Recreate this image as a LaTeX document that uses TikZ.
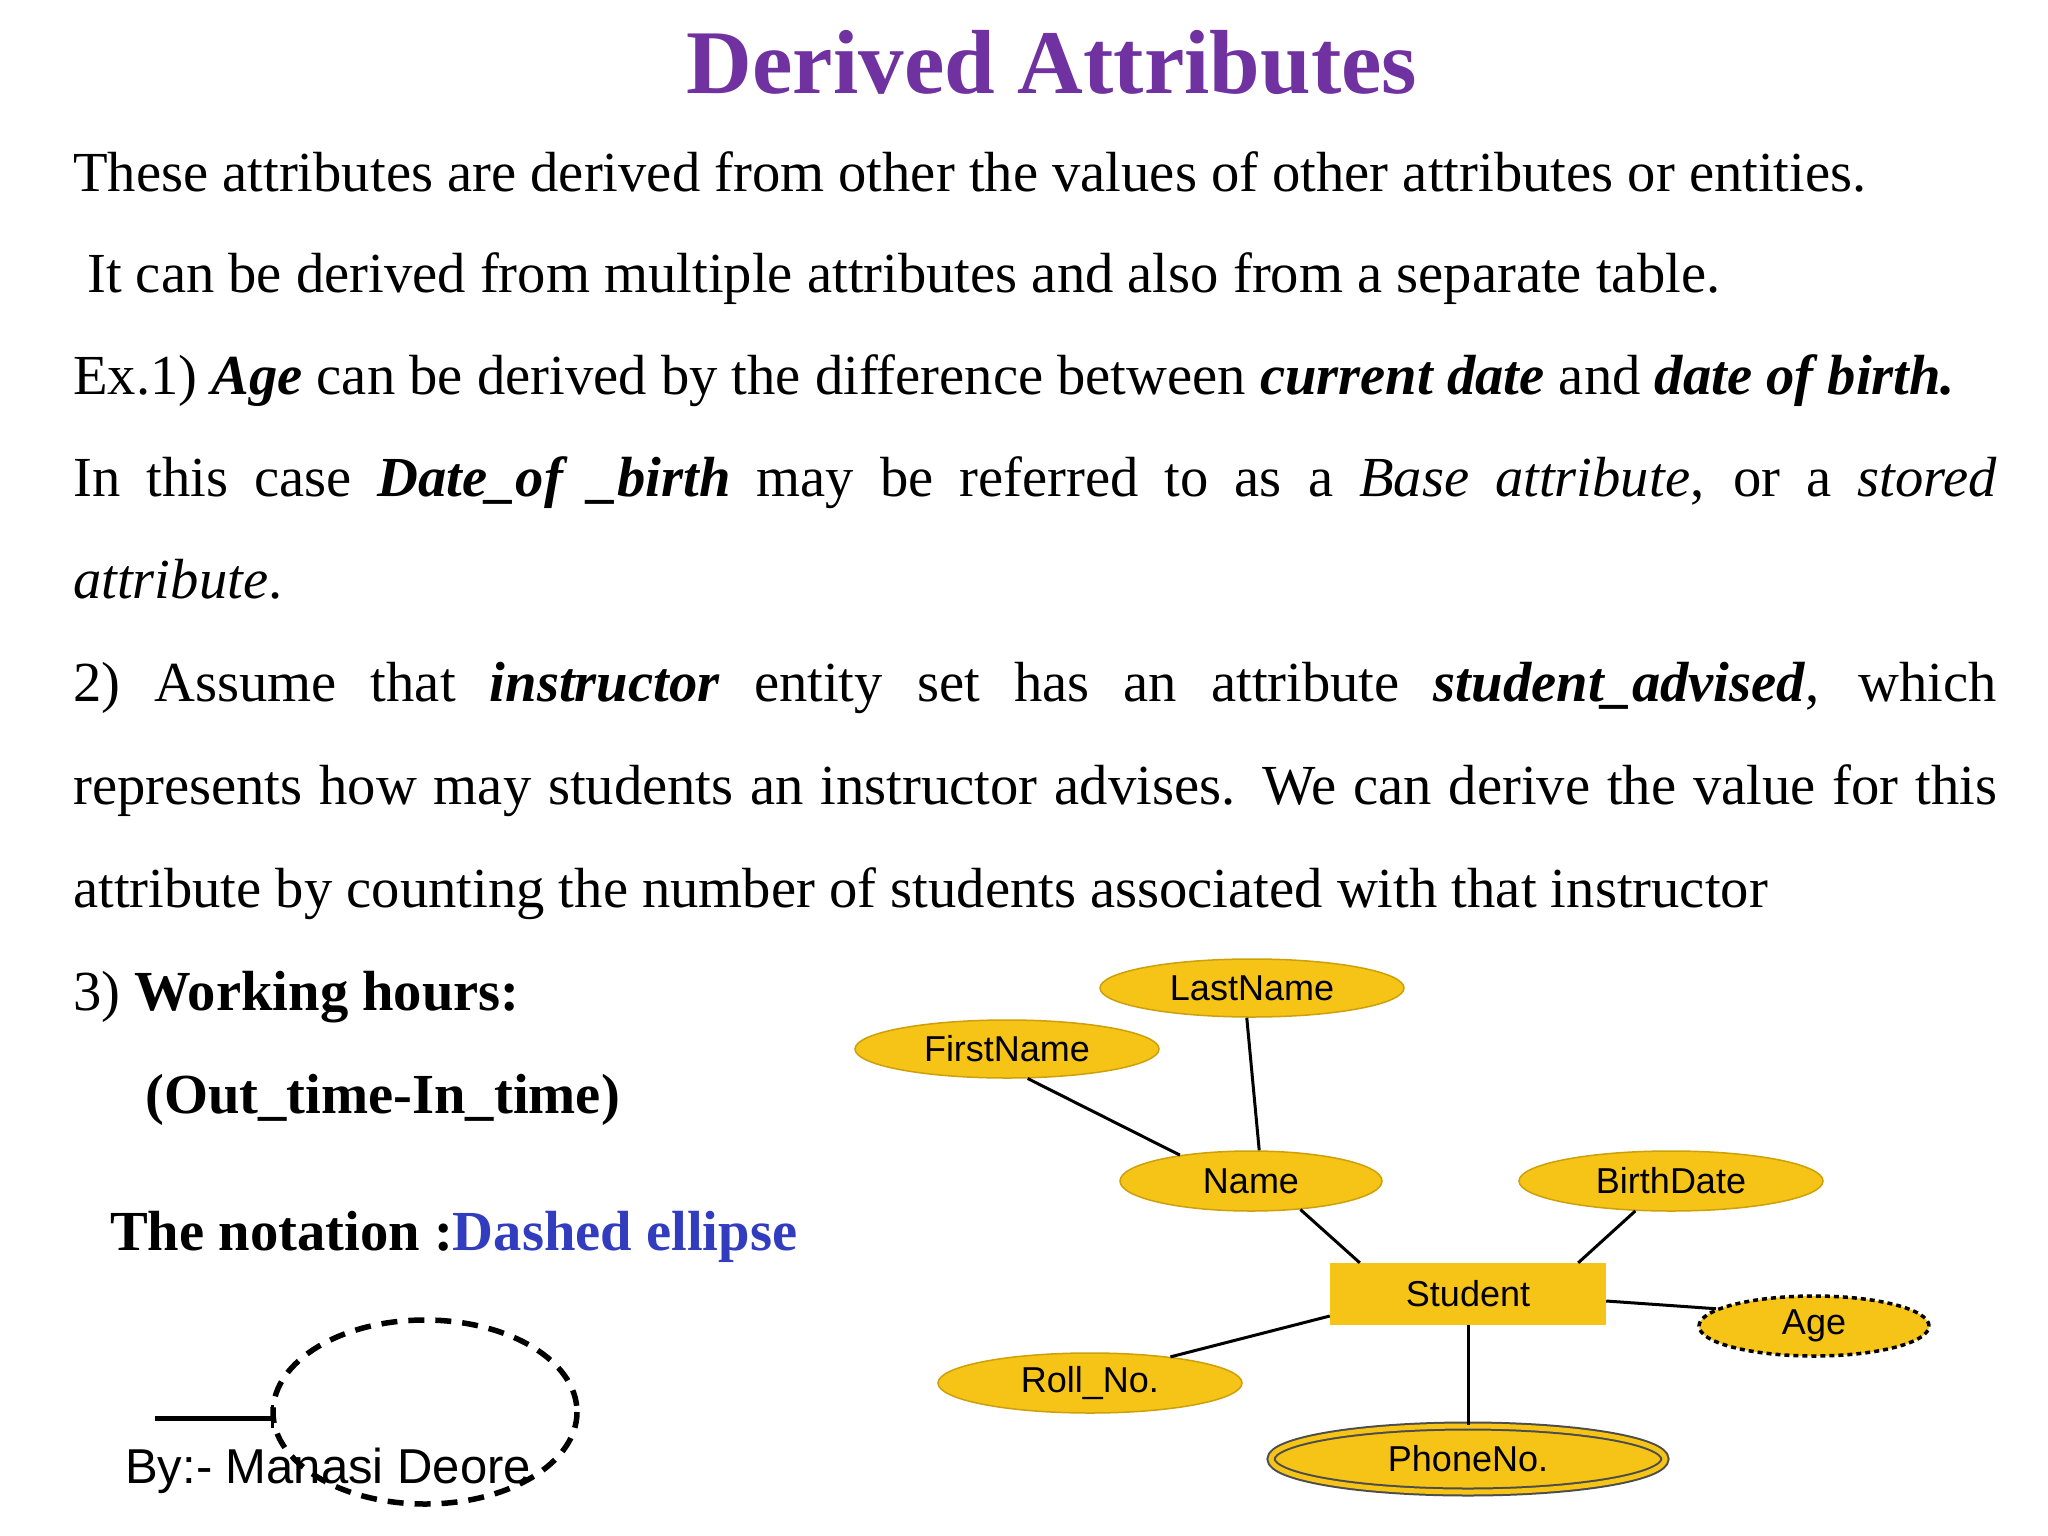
\documentclass[tikz,border=0pt]{standalone}
\usepackage{fontspec}
\setmainfont{Liberation Serif}
\setsansfont{Liberation Sans}
\usetikzlibrary{shapes.geometric,calc}
\definecolor{ttl}{RGB}{112,50,160}
\definecolor{blu}{RGB}{50,60,190}
\definecolor{yel}{RGB}{245,196,22}
\definecolor{yeld}{RGB}{205,160,10}
\tikzset{
 body/.style={anchor=base west,inner sep=0pt,font=\fontsize{56.6}{60}\selectfont},
 attr/.style={ellipse,fill=yel,draw=yeld,line width=1.5pt,inner sep=0pt,font=\sffamily\fontsize{36}{40}\selectfont},
 conn/.style={line width=3pt}
}
\newcommand{\bi}[1]{\textbf{\textit{#1}}}
\begin{document}
\begin{tikzpicture}[x=1pt,y=-1pt]
\useasboundingbox (0,0) rectangle (2048,1536);
\node[anchor=base,inner sep=0pt,text=ttl,font=\bfseries\fontsize{91}{100}\selectfont] (title) at (1052,94) {Derived Attributes};
\node[body] (l1) at (73,191) {These attributes are derived from other the values of other attributes or entities.};
\node[body] (l2) at (87,292) {It can be derived from multiple attributes and also from a separate table.};
\node[body] (l3) at (73,394) {Ex.1) \bi{Age} can be derived by the difference between \bi{current date} and \bi{date of birth.}};
\node[body] (l4) at (73,496) {\makebox[1924pt][s]{In this case \bi{Date\_of \_birth} may be referred to as a \textit{Base attribute}, or a \textit{stored}}};
\node[body] (l5) at (73,598) {\textit{attribute}.};
\node[body] (l6) at (73,701) {\makebox[1924pt][s]{2) Assume that \bi{instructor} entity set has an attribute \bi{student\_advised}, which}};
\node[body] (l7) at (73,804) {\makebox[1924pt][s]{represents how may students an instructor advises. We can derive the value for this}};
\node[body] (l8) at (73,907) {attribute by counting the number of students associated with that instructor};
\node[body] (l9) at (73,1010) {3) \textbf{Working hours:}};
\node[body] (l10) at (145,1113) {\textbf{(Out\_time-In\_time)}};
\node[body] (l11) at (110,1250) {\textbf{The notation :\textcolor{blu}{Dashed ellipse}}};
% notation sample
\draw[line width=5.5pt,dash pattern=on 16pt off 11pt] (425,1412) ellipse [x radius=152,y radius=92];
\draw[line width=5pt] (155,1418) -- (272,1418);
\draw[line width=3pt] (272,1405) -- (272,1428);
\node[anchor=base west,inner sep=0pt,font=\sffamily\fontsize{49}{54}\selectfont] (by) at (125,1483) {By:- Manasi Deore};
% ER diagram
\begin{scope}[shift={(-12,-10)}]
\node[attr,minimum width=304pt,minimum height=58pt] (ln) at (1264,998) {LastName};
\node[attr,minimum width=304pt,minimum height=58pt] (fn) at (1019,1059) {FirstName};
\node[attr,minimum width=262pt,minimum height=60pt] (nm) at (1263,1191) {Name};
\node[attr,minimum width=304pt,minimum height=60pt] (bd) at (1683,1191) {BirthDate};
\node[rectangle,fill=yel,inner sep=0pt,minimum width=276pt,minimum height=62pt,font=\sffamily\fontsize{36}{40}\selectfont] (st) at (1480,1304) {Student};
\node[attr,draw=black,dash pattern=on 5pt off 4pt,line width=3.5pt,minimum width=230pt,minimum height=60pt] (ag) at (1826,1336) {Age};
\node[attr,minimum width=304pt,minimum height=60pt] (rn) at (1102,1393) {Roll\_No.};
\node[attr,draw=black!70,line width=2pt,minimum width=394pt,minimum height=66pt,double=yel,double distance=5pt] (ph) at (1480,1469) {PhoneNo.};
\draw[conn] (fn.-55) -- (nm.160);
\draw[conn] (ln.-100) -- (nm.75);
\draw[conn] (nm.-30) -- ([xshift=30pt]st.north west);
\draw[conn] (bd.-140) -- ([xshift=-28pt]st.north east);
\draw[conn] ([yshift=-7pt]st.east) -- (ag.170);
\draw[conn] ([yshift=-22pt]st.west) -- (rn.18);
\draw[conn] (st.south) -- (ph.north);
\end{scope}
\end{tikzpicture}
\end{document}
